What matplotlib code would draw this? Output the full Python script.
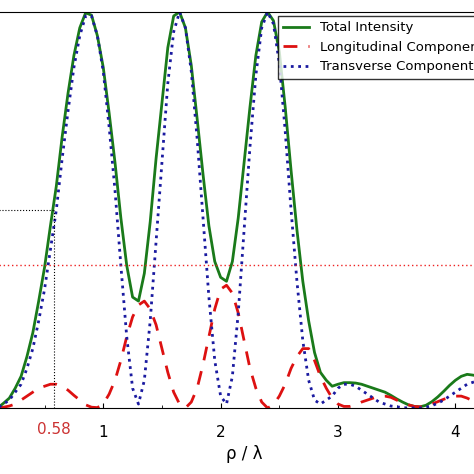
import matplotlib
matplotlib.use("Agg")
import matplotlib.pyplot as plt

rho = [0.10,0.15,0.20,0.25,0.30,0.35,0.40,0.45,0.50,0.55,
       0.60,0.65,0.70,0.75,0.80,0.85,0.90,0.95,1.00,1.05,
       1.10,1.15,1.20,1.25,1.30,1.35,1.40,1.45,1.50,1.55,
       1.60,1.65,1.70,1.75,1.80,1.85,1.90,1.95,2.00,2.05,
       2.10,2.15,2.20,2.25,2.30,2.35,2.40,2.45,2.50,2.55,
       2.60,2.65,2.70,2.75,2.80,2.85,2.90,2.95,3.00,3.05,
       3.10,3.15,3.20,3.25,3.30,3.35,3.40,3.45,3.50,3.55,
       3.60,3.65,3.70,3.75,3.80,3.85,3.90,3.95,4.00,4.05,
       4.10,4.15,4.20,4.25,4.30]
transverse = [0,0.01,0.02,0.04,0.06,0.10,0.15,0.22,0.30,0.40,
              0.50,0.63,0.75,0.86,0.94,0.99,0.99,0.94,0.85,0.71,
              0.55,0.36,0.18,0.05,0.01,0.07,0.22,0.42,0.62,0.82,
              0.95,1.0,0.96,0.85,0.68,0.48,0.28,0.12,0.03,0.01,
              0.08,0.24,0.45,0.66,0.84,0.96,1.0,0.97,0.87,0.70,
              0.50,0.32,0.17,0.07,0.02,0.01,0.02,0.03,0.05,0.06,
              0.06,0.055,0.045,0.035,0.025,0.015,0.01,0.005,0.003,0.001,
              0,0,0,0.002,0.006,0.012,0.02,0.03,0.04,0.05,
              0.06,0.065,0.07,0.07,0.065]
longitudinal = [0,0.002,0.005,0.01,0.02,0.03,0.04,0.05,0.055,0.06,
                0.06,0.055,0.045,0.032,0.02,0.008,0.002,0.001,0.01,0.035,
                0.07,0.12,0.18,0.23,0.26,0.27,0.25,0.21,0.15,0.09,
                0.04,0.01,0.0,0.015,0.05,0.11,0.18,0.25,0.30,0.31,
                0.29,0.24,0.17,0.10,0.05,0.015,0.0,0.008,0.03,0.06,
                0.10,0.13,0.15,0.15,0.12,0.08,0.05,0.025,0.01,0.004,
                0.004,0.008,0.015,0.02,0.025,0.03,0.03,0.027,0.02,0.014,
                0.008,0.004,0.003,0.005,0.01,0.016,0.022,0.027,0.03,0.03,
                0.025,0.018,0.01,0.006,0.004]
total = [0,0.012,0.025,0.05,0.08,0.13,0.19,0.27,0.355,0.46,
         0.56,0.685,0.795,0.89,0.96,0.998,0.992,0.94,0.86,0.745,
         0.62,0.48,0.36,0.28,0.27,0.34,0.47,0.63,0.77,0.91,
         0.99,1.0,0.96,0.865,0.73,0.59,0.46,0.37,0.33,0.32,
         0.37,0.48,0.62,0.76,0.89,0.975,1.0,0.978,0.9,0.76,
         0.6,0.45,0.32,0.22,0.14,0.09,0.07,0.055,0.06,0.064,
         0.064,0.063,0.06,0.055,0.05,0.045,0.04,0.032,0.023,0.015,
         0.008,0.004,0.003,0.007,0.016,0.028,0.042,0.057,0.07,0.08,
         0.085,0.083,0.08,0.076,0.069]
xticks = [1, 2, 3, 4]
marker_x = 0.58
half_level = 0.5
thresh_level = 0.36

fig = plt.figure(figsize=(4.74, 4.74), dpi=100)
ax = fig.add_axes([-0.01, 1 - 408/474, 1.05, 396/474])
ax.plot(rho, total, color="#1a7a1a", lw=2, label="Total Intensity")
ax.plot(rho, longitudinal, color="#dd1111", lw=2, ls=(0, (5, 4)), label="Longitudinal Component")
ax.plot(rho, transverse, color="#1a1aa0", lw=2, ls=":", label="Transverse Component")
ax.axhline(thresh_level, color="#ee2222", lw=1, ls=(0, (1, 2)))
ax.plot([0.08, marker_x], [half_level, half_level], color="black", lw=0.8, ls=":")
ax.plot([marker_x, marker_x], [0, half_level], color="black", lw=0.8, ls=":")
ax.text(marker_x, -0.055, "0.58", color="#cc3333", ha="center", va="center", fontsize=11)
ax.set_xlim(0.08, 4.32)
ax.set_ylim(0, 1)
ax.set_xticks(xticks)
ax.set_xticks([0.5, 1.5, 2.5, 3.5], minor=True)
ax.tick_params(axis="x", labelsize=11, pad=12, direction="in")
ax.tick_params(axis="x", which="minor", direction="in")
ax.set_yticks([])
ax.set_xlabel("ρ / λ", fontsize=12)
ax.legend(loc="upper right", fontsize=9.5, frameon=True, fancybox=False, edgecolor="black", borderaxespad=0.3)
fig.savefig("out.png", dpi=100)
